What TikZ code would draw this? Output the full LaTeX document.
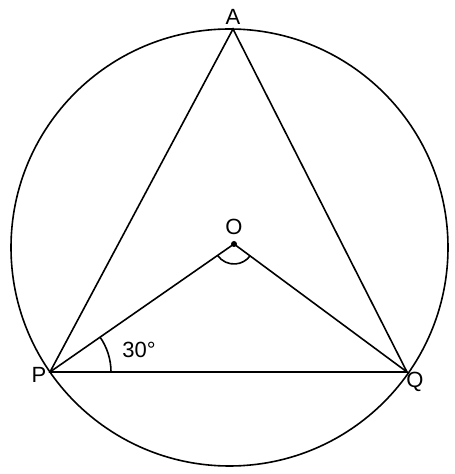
\documentclass[tikz,border=0pt]{standalone}
\usepackage{fontspec}
\setmainfont{Liberation Sans}
\usepackage{tikz}

\begin{document}
\begin{tikzpicture}[x=1pt,y=1pt,line width=1.6pt]
\tikzstyle{every node}+=[inner sep=0pt,font=\fontsize{22}{26}\selectfont]
\useasboundingbox (0,0) rectangle (455,474);
\coordinate (C) at (229.5,226.5);
\coordinate (A) at (233,445);
\coordinate (O) at (234,230);
\coordinate (P) at (50,102);
\coordinate (Q) at (407,102);
\draw [black] (C) circle (218.5pt);
\draw [black] (P) -- (A) -- (Q) -- cycle;
\draw [black] (P) -- (O) -- (Q);
\fill [black] (O) circle (3pt);
\draw [black] ([shift={(0:61)}]P) arc (0:35:61pt);
\draw [black] ([shift={(215:20)}]O) arc (215:323.3:20pt);
\node (lA) at (233,457.5) {A};
\node (lO) at (234,247) {O};
\node (lP) at (39,99) {P};
\node (lQ) at (415,92) {Q};
\node (l30) at (139,124) {30°};
\end{tikzpicture}
\end{document}
